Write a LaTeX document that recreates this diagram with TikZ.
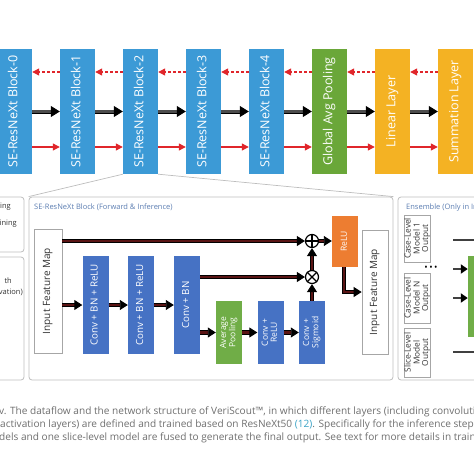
\documentclass[tikz,border=0pt]{standalone}
\usepackage{fontspec}
\setmainfont{Open Sans}
\usepackage{graphicx}
\usetikzlibrary{arrows.meta}
\usetikzlibrary{positioning,calc}

\definecolor{topblue}{HTML}{3C9AD6}
\definecolor{topgreen}{HTML}{6AA739}
\definecolor{topyellow}{HTML}{F4B223}
\definecolor{lowblue}{HTML}{4672C4}
\definecolor{lowgreen}{HTML}{70AD47}
\definecolor{loworange}{HTML}{ED7D31}
\definecolor{arrowred}{HTML}{E0262B}
\definecolor{flowbrown}{HTML}{5A1414}
\definecolor{framegray}{HTML}{BDBDBD}
\definecolor{capgray}{HTML}{6E6E6E}
\definecolor{reflink}{HTML}{3BA3C6}
\definecolor{titleblue}{HTML}{5B7DB1}

\newcommand{\vlbl}[1]{\rotatebox{90}{\begin{tabular}{@{}c@{}}#1\end{tabular}}}

\tikzset{
    topblk/.style={
        minimum width=35pt,
        minimum height=125pt,
        inner sep=0pt,
        text=white,
        font=\fontsize{12.5}{14}\selectfont
    },
    lowblk/.style={
        minimum width=26pt,
        inner sep=0pt,
        text=white,
        font=\fontsize{8.5}{9}\selectfont
    },
    mapbox/.style={
        draw=gray!70,
        fill=white,
        line width=0.7pt,
        inner sep=0pt,
        text=black!80,
        font=\fontsize{10}{11}\selectfont
    },
    panel/.style={
        draw=framegray,
        rounded corners=3pt,
        line width=0.8pt,
        inner sep=0pt
    },
    opcirc/.style={
        draw=black,
        circle,
        line width=1.2pt,
        minimum size=13pt,
        inner sep=0pt
    },
    fwd/.style={
        draw=black,
        double={black!70},
        line width=0.7pt,
        double distance=2.6pt,
        -{Triangle[length=9pt, width=11pt, color=black]}
    },
    fwdred/.style={
        draw=arrowred,
        line width=1.2pt,
        -{Triangle[length=7pt, width=7pt]}
    },
    backred/.style={
        draw=arrowred,
        line width=1.2pt,
        dash pattern=on 3pt off 2pt,
        -{Triangle[length=7pt, width=7pt]}
    },
    flow/.style={
        draw=black,
        double=flowbrown,
        line width=0.9pt,
        double distance=2.6pt,
        -{Triangle[length=8pt, width=10pt, color=black]}
    },
    ensline/.style={
        draw=black!75,
        line width=2.4pt
    }
}

\begin{document}
\begin{tikzpicture}[x=1pt, y=-1pt]
  \useasboundingbox (0,0) rectangle (474,474);
  \clip (0,0) rectangle (474,474);

  % Top row of layers
  \node[topblk, fill=topblue] (b0) at (14.5,111.5) {\vlbl{SE-ResNeXt Block-0}};
  \node[topblk, fill=topblue] (b1) at (77.5,111.5) {\vlbl{SE-ResNeXt Block-1}};
  \node[topblk, fill=topblue] (b2) at (140.5,111.5) {\vlbl{SE-ResNeXt Block-2}};
  \node[topblk, fill=topblue] (b3) at (203.5,111.5) {\vlbl{SE-ResNeXt Block-3}};
  \node[topblk, fill=topblue] (b4) at (266.5,111.5) {\vlbl{SE-ResNeXt Block-4}};
  \node[topblk, fill=topgreen] (gap) at (329.5,111.5) {\vlbl{Global Avg Pooling}};
  \node[topblk, fill=topyellow] (lin) at (392.5,111.5) {\vlbl{Linear Layer}};
  \node[topblk, fill=topyellow] (sum) at (455.5,111.5) {\vlbl{Summation Layer}};

  % Forward pass
  \draw[fwd] (b0) -- (b1);
  \draw[fwd] (b1) -- (b2);
  \draw[fwd] (b2) -- (b3);
  \draw[fwd] (b3) -- (b4);
  \draw[fwd] (b4) -- (gap);
  \draw[fwd] (gap) -- (lin);
  \draw[fwd] (lin) -- (sum);

  % Red forward arrows
  \draw[fwdred] ([yshift=-35.5pt]b0.east) -- ([yshift=-35.5pt]b1.west);
  \draw[fwdred] ([yshift=-35.5pt]b1.east) -- ([yshift=-35.5pt]b2.west);
  \draw[fwdred] ([yshift=-35.5pt]b2.east) -- ([yshift=-35.5pt]b3.west);
  \draw[fwdred] ([yshift=-35.5pt]b3.east) -- ([yshift=-35.5pt]b4.west);
  \draw[fwdred] ([yshift=-35.5pt]b4.east) -- ([yshift=-35.5pt]gap.west);
  \draw[fwdred] ([yshift=-35.5pt]gap.east) -- ([yshift=-35.5pt]lin.west);
  \draw[fwdred] ([yshift=-35.5pt]lin.east) -- ([yshift=-35.5pt]sum.west);

  % Backward (dashed)
  \draw[backred] ([yshift=39.5pt]b1.west) -- ([yshift=39.5pt]b0.east);
  \draw[backred] ([yshift=39.5pt]b2.west) -- ([yshift=39.5pt]b1.east);
  \draw[backred] ([yshift=39.5pt]b3.west) -- ([yshift=39.5pt]b2.east);
  \draw[backred] ([yshift=39.5pt]b4.west) -- ([yshift=39.5pt]b3.east);
  \draw[backred] ([yshift=39.5pt]gap.west) -- ([yshift=39.5pt]b4.east);
  \draw[backred] ([yshift=39.5pt]lin.west) -- ([yshift=39.5pt]gap.east);
  \draw[backred] ([yshift=39.5pt]sum.west) -- ([yshift=39.5pt]lin.east);

  % Panels
  \node[panel, minimum width=34pt, minimum height=55pt] (lp1) at (7,224.5) {};
  \node[panel, minimum width=34pt, minimum height=123pt] (lp2) at (7,318.5) {};
  \node[panel, minimum width=364pt, minimum height=183pt] (mid) at (211,288.5) {};
  \node[panel, minimum width=82pt, minimum height=183pt] (ensp) at (439,288.5) {};

  \draw[draw=framegray, line width=0.7pt] (b2.south west) -- (mid.north west);
  \draw[draw=framegray, line width=0.7pt] (b2.south east) -- (mid.north east);

  % Left panels (cut off)
  \begin{scope}[every node/.style={anchor=east, inner sep=0pt, text=black!80, font=\fontsize{7.5}{9}\selectfont}]
    \node (t1) at (11,207) {sing};
    \node (t2) at (17,224) {ining};
    \node (t3) at (12,281) {th};
    \node (t4) at (23,292) {vation)};
  \end{scope}

  % SE-ResNeXt block detail
  \node[anchor=west, inner sep=0pt, text=titleblue, font=\fontsize{7.5}{9}\selectfont] (midttl) at (34,207) {SE-ResNeXt Block (Forward \& Inference)};

  \node[mapbox, minimum width=28pt, minimum height=124pt] (inL) at (48,291) {\vlbl{Input Feature Map}};
  \node[lowblk, fill=lowblue, minimum height=98pt, font=\fontsize{9.8}{10}\selectfont] (c1) at (95.5,305) {\vlbl{Conv + BN + ReLU}};
  \node[lowblk, fill=lowblue, minimum height=98pt, font=\fontsize{9.8}{10}\selectfont] (c2) at (141,305) {\vlbl{Conv + BN + ReLU}};
  \node[lowblk, fill=lowblue, minimum height=98pt, font=\fontsize{9.8}{10}\selectfont] (c3) at (187,305) {\vlbl{Conv + BN}};
  \node[lowblk, fill=lowgreen, minimum height=63pt] (avg) at (229,332.5) {\vlbl{Average\\Pooling}};
  \node[lowblk, fill=lowblue, minimum height=63pt] (c4) at (270.5,332.5) {\vlbl{Conv +\\ReLU}};
  \node[lowblk, fill=lowblue, minimum height=63pt] (c5) at (312,332.5) {\vlbl{Conv +\\Sigmoid}};
  \node[opcirc] (mul) at (312,277) {};
  \node[opcirc] (add) at (312,241) {};
  \node[lowblk, fill=loworange, minimum height=51pt] (relu) at (345,241.5) {\vlbl{ReLU}};
  \node[mapbox, minimum width=26pt, minimum height=124pt] (inR) at (375,292) {\vlbl{Input Feature Map}};

  \draw[line width=1.2pt] (add.north) -- (add.south);
  \draw[line width=1.2pt] (add.west) -- (add.east);
  \draw[line width=1.2pt] (mul.north west) -- (mul.south east);
  \draw[line width=1.2pt] (mul.north east) -- (mul.south west);

  % Data flow inside the block
  \draw[flow] (inL.east |- c1.west) -- (c1.west);
  \draw[flow] (c1) -- (c2);
  \draw[flow] (c2) -- (c3);
  \draw[flow] (inL.east |- add.west) -- (add.west);
  \draw[flow] (c3.east |- mul.west) -- (mul.west);
  \draw[flow] (c3.east |- avg.west) -- (avg.west);
  \draw[flow] (avg) -- (c4);
  \draw[flow] (c4) -- (c5);
  \draw[flow] (c5.north) -- (mul.south);
  \draw[flow] (mul.north) -- (add.south);
  \draw[flow] (add.east) -- (relu.west |- add.east);
  \draw[flow] ([xshift=-1pt]relu.south) |- (inR.west);

  % Ensemble panel
  \node[anchor=west, inner sep=0pt, text=titleblue, font=\fontsize{7.5}{9}\selectfont] (ensttl) at (406,208) {Ensemble (Only in Inference)};
  \begin{scope}[every node/.style={mapbox, minimum width=23pt, font=\fontsize{8.3}{8.6}\selectfont}]
    \node[minimum height=47pt] (m1) at (417.5,238.5) {\vlbl{Case-Level\\Model 1\\Output}};
    \node[minimum height=50pt] (mN) at (417.5,298) {\vlbl{Case-Level\\Model N\\Output}};
    \node[minimum height=49pt] (sl) at (417.5,352.5) {\vlbl{Slice-Level\\Model\\Output}};
  \end{scope}
  \node[fill=lowgreen, minimum width=16pt, minimum height=81pt, inner sep=0pt] (ens) at (476,296.5) {};
  \node[inner sep=0pt, font=\fontsize{9}{9}\selectfont] (dots) at (431,268) {\textbullet\,\textbullet\,\textbullet};

  \coordinate (s1) at (453,240);
  \coordinate (sd) at (453,269);
  \coordinate (sN) at (453,298);
  \coordinate (sS) at (453,352);
  \draw[ensline] (s1) -- (s1 -| 480,0);
  \draw[ensline, -{Triangle[length=7pt, width=9pt, color=black]}] (sd) -- (sd -| ens.west);
  \draw[ensline, -{Triangle[length=7pt, width=9pt, color=black]}] (sN) -- (sN -| ens.west);
  \draw[ensline] (sS) -- (sS -| 480,0);

  % Caption (cut off at the edges)
  \begin{scope}[every node/.style={anchor=west, inner sep=0pt, text=capgray, font=\fontsize{10.1}{12}\selectfont}]
    \node (cap1) at (-1,412) {v. The dataflow and the network structure of VeriScout™, in which different layers (including convolutional};
    \node (cap2) at (0,425) {activation layers) are defined and trained based on ResNeXt50 {\color{reflink}(12)}. Specifically for the inference step-};
    \node (cap3) at (-1,438) {dels and one slice-level model are fused to generate the final output. See text for more details in training};
  \end{scope}
\end{tikzpicture}
\end{document}
